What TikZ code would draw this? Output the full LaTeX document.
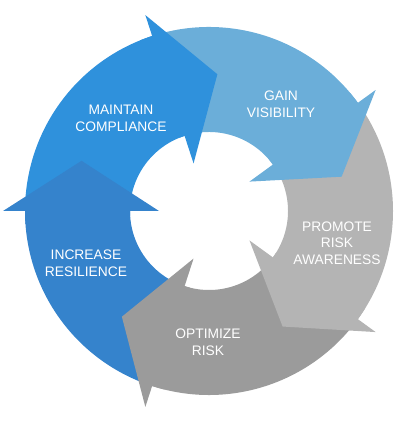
\documentclass[tikz,border=0pt]{standalone}
\usepackage{fontspec}
\setmainfont{Liberation Sans}
\usetikzlibrary{calc}
\definecolor{cMaintain}{HTML}{2F91DC}
\definecolor{cGain}{HTML}{6BAED9}
\definecolor{cPromote}{HTML}{B4B4B4}
\definecolor{cOptimize}{HTML}{9B9B9B}
\definecolor{cIncrease}{HTML}{3583CC}
\tikzset{
  lbl/.style={text=white, align=center, inner sep=0pt,
    font=\fontsize{13.8}{16.7}\selectfont}
}
\newcommand{\band}[3]{% colour, from angle, to angle
  \fill[#1] ($(C)+(#2:184)$) arc[start angle=#2, end angle=#3, radius=184]
    -- ($(C)+(#3:79)$) arc[start angle=#3, end angle=#2, radius=79] -- cycle;}
\newcommand{\head}[2]{% colour, base angle
  \fill[#1] ($(C)+(#2+4:184)$) arc[start angle=#2+4, end angle=#2, radius=184]
    -- ($(C)+(#2:206)$) -- ($(C)+(#2-21.5:137)$) -- ($(C)+(#2:50)$)
    -- ($(C)+(#2:79)$) arc[start angle=#2, end angle=#2+4, radius=79] -- cycle;}
\begin{document}
\begin{tikzpicture}[x=1pt,y=1pt]
\useasboundingbox (0,0) rectangle (400,422);
\coordinate (C) at (209,211);
% bands
\band{cMaintain}{180}{108}
\band{cGain}{108}{36}
\band{cPromote}{36}{-36}
\band{cOptimize}{-36}{-108}
\band{cIncrease}{252}{180}
% heads
\head{cMaintain}{108}
\head{cGain}{36}
\head{cPromote}{-36}
\head{cOptimize}{-108}
\head{cIncrease}{180}
% labels
\node[lbl] (t1) at (121,304) {MAINTAIN\\COMPLIANCE};
\node[lbl] (t2) at (281,318) {GAIN\\VISIBILITY};
\node[lbl] (t3) at (337,179) {PROMOTE\\RISK\\AWARENESS};
\node[lbl] (t4) at (208,80) {OPTIMIZE\\RISK};
\node[lbl] (t5) at (86,159) {INCREASE\\RESILIENCE};
\end{tikzpicture}
\end{document}
